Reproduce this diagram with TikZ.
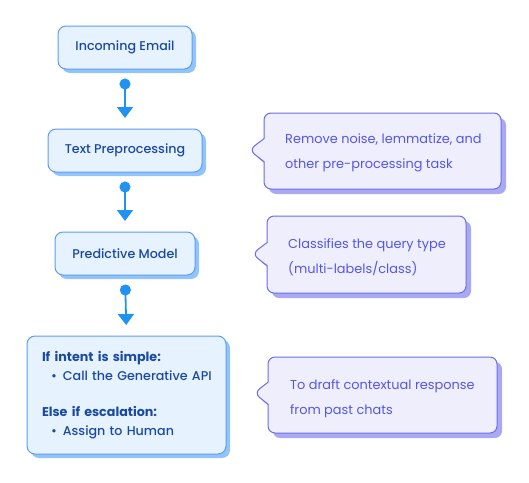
\documentclass[tikz,border=0pt]{standalone}
\usepackage{fontspec}
\setmainfont{Poppins}
\newfontfamily\pmed{Poppins Medium}
\usetikzlibrary{arrows.meta,shadows,shapes.callouts}
\definecolor{boxfill}{HTML}{E6F2FE}
\definecolor{boxline}{HTML}{5E9CF2}
\definecolor{boxshadow}{HTML}{90C4FA}
\definecolor{boxtext}{HTML}{1A4AA0}
\definecolor{conn}{HTML}{2092F2}
\definecolor{calfill}{HTML}{EEEEFD}
\definecolor{calline}{HTML}{6C6CF0}
\definecolor{calshadow}{HTML}{A9A9F2}
\definecolor{caltext}{HTML}{5656E6}
\begin{document}
\begin{tikzpicture}[x=1pt,y=1pt,
  flowbox/.style={draw=boxline, line width=1pt, fill=boxfill, rounded corners=8pt,
    drop shadow={shadow xshift=4pt,shadow yshift=-4pt,fill=boxshadow,opacity=1},
    text=boxtext, font=\pmed\fontsize{12.7}{14}\selectfont, inner sep=0pt, minimum height=43pt},
  flowarrow/.style={draw=conn, line width=1.8pt,
    {Circle[length=11pt]}-{Triangle[width=16pt,length=11pt]},
    shorten <=9pt, shorten >=10.5pt},
  callbox/.style={rectangle callout, draw=calline, line width=1pt, fill=calfill, rounded corners=7pt,
    drop shadow={shadow xshift=5pt,shadow yshift=-5pt,fill=calshadow,opacity=1},
    inner sep=0pt, callout pointer width=23pt},
  calltext/.style={anchor=west, align=left, text=caltext, inner sep=0pt,
    font=\fontsize{12.9}{25}\selectfont}
]
\useasboundingbox (0,0) rectangle (529,-482);

% flow boxes
\node[flowbox, minimum width=134pt] (email) at (125,-47.5) {Incoming Email};
\node[flowbox, minimum width=154pt] (prep) at (125,-150.5) {Text Preprocessing};
\node[flowbox, minimum width=140pt] (model) at (125,-253.5) {Predictive Model};
\node[flowbox, minimum width=199pt, minimum height=118pt, text width=169pt, inner xsep=15pt,
      align=left, font=\pmed\fontsize{12.7}{19.5}\selectfont] (route) at (126.5,-395)
  {\mbox{\rmfamily\bfseries If intent is simple:}\\
   \mbox{\hspace*{9pt}•\hspace{6pt}Call the Generative API}\\[16pt]
   \mbox{\rmfamily\bfseries Else if escalation:}\\
   \mbox{\hspace*{9pt}•\hspace{6pt}Assign to Human}};

% connectors
\draw[flowarrow] (email.south) -- (prep.north);
\draw[flowarrow] (prep.south) -- (model.north);
\draw[flowarrow] (model.south) -- (route.north);

% callouts
\node[callbox, minimum width=237pt, minimum height=76pt,
      callout absolute pointer={(249,-150)}] (c1) at (382.5,-151) {};
\node[calltext] (t1) at (285,-153) {Remove noise, lemmatize, and\\other pre-processing task};

\node[callbox, minimum width=199pt, minimum height=77pt,
      callout absolute pointer={(252,-254)}] (c2) at (366.5,-254.5) {};
\node[calltext] (t2) at (288,-257) {Classifies the query type\\(multi-labels/class)};

\node[callbox, minimum width=229pt, minimum height=76pt, callout pointer width=22pt,
      callout absolute pointer={(254,-393)}] (c3) at (382.5,-395) {};
\node[calltext] (t3) at (290,-398.5) {To draft contextual response\\from past chats};
\end{tikzpicture}
\end{document}
